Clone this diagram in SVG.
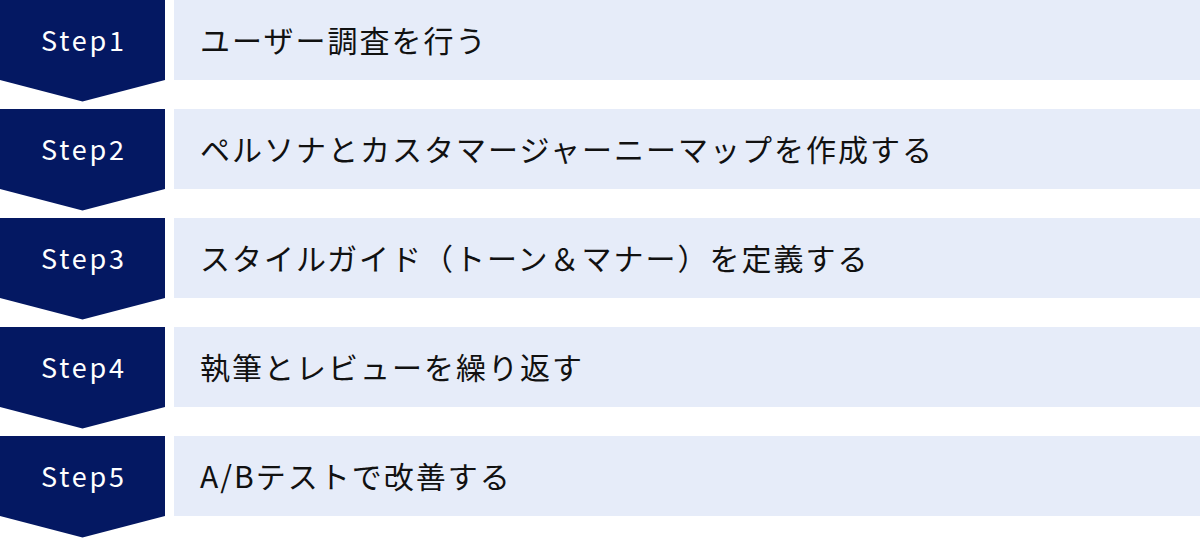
<svg xmlns="http://www.w3.org/2000/svg" width="1200" height="538" viewBox="0 0 1200 538">
<style>
.arrow{fill:#041862}
.box{fill:#E6ECF9}
.lbl{font-family:"Noto Sans CJK JP","Noto Sans",sans-serif;font-size:27px;fill:#ffffff;letter-spacing:2.8px;text-anchor:middle}
.txt{font-family:"Noto Sans CJK JP","Noto Sans",sans-serif;font-size:30px;fill:#111111;letter-spacing:2px}
</style>
<defs>
<path id="chev" d="M0,0 H165 V80 L82.5,101.5 L0,80 Z"/>
</defs>
<g id="step1">
<use href="#chev" class="arrow" y="0"/>
<rect class="box" x="174" y="0" width="1026" height="80"/>
<text class="lbl" x="84" y="50.5">Step1</text>
<text class="txt" x="200" y="52">ユーザー調査を行う</text>
</g>
<g id="step2">
<use href="#chev" class="arrow" y="109"/>
<rect class="box" x="174" y="109" width="1026" height="80"/>
<text class="lbl" x="84" y="159.5">Step2</text>
<text class="txt" x="200" y="161">ペルソナとカスタマージャーニーマップを作成する</text>
</g>
<g id="step3">
<use href="#chev" class="arrow" y="218"/>
<rect class="box" x="174" y="218" width="1026" height="80"/>
<text class="lbl" x="84" y="268.5">Step3</text>
<text class="txt" x="200" y="270">スタイルガイド（トーン＆マナー）を定義する</text>
</g>
<g id="step4">
<use href="#chev" class="arrow" y="327"/>
<rect class="box" x="174" y="327" width="1026" height="80"/>
<text class="lbl" x="84" y="377.5">Step4</text>
<text class="txt" x="200" y="379">執筆とレビューを繰り返す</text>
</g>
<g id="step5">
<use href="#chev" class="arrow" y="436"/>
<rect class="box" x="174" y="436" width="1026" height="80"/>
<text class="lbl" x="84" y="486.5">Step5</text>
<text class="txt" x="200" y="488">A/Bテストで改善する</text>
</g>
<g id="connectors"></g>
</svg>
